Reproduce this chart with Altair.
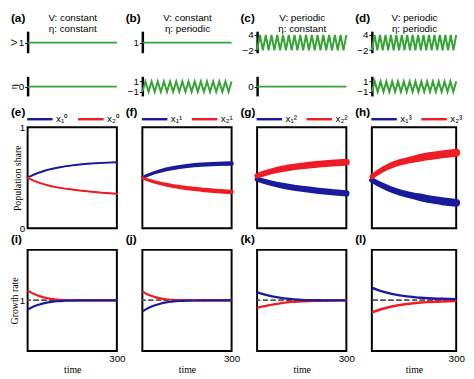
import altair as alt
import pandas as pd

# ---------------- data ----------------
T = [0, 20, 40, 60, 80, 100, 125, 150, 175, 200, 250, 300]

# top row: environmental signals V and eta
CONST_T = [0, 300]
V_CONST = [1, 1]
ETA_CONST = [0, 0]
V_ZIG_T = [0, 9.7, 19.4, 29.0, 38.7, 48.4, 58.1, 67.7, 77.4, 87.1, 96.8, 106.5,
           116.1, 125.8, 135.5, 145.2, 154.8, 164.5, 174.2, 183.9, 193.5, 203.2,
           212.9, 222.6, 232.3, 241.9, 251.6, 261.3, 271.0, 280.6, 290.3, 300]
V_ZIG = [-2, 4, -2, 4, -2, 4, -2, 4, -2, 4, -2, 4, -2, 4, -2, 4,
         -2, 4, -2, 4, -2, 4, -2, 4, -2, 4, -2, 4, -2, 4, -2, 4]
ETA_ZIG_T = [0, 10.3, 20.7, 31.0, 41.4, 51.7, 62.1, 72.4, 82.8, 93.1, 103.4, 113.8,
             124.1, 134.5, 144.8, 155.2, 165.5, 175.9, 186.2, 196.6, 206.9, 217.2,
             227.6, 237.9, 248.3, 258.6, 269.0, 279.3, 289.7, 300]
ETA_ZIG = [-1, 1, -1, 1, -1, 1, -1, 1, -1, 1, -1, 1, -1, 1, -1, 1,
           -1, 1, -1, 1, -1, 1, -1, 1, -1, 1, -1, 1, -1, 1]

# population shares (x1 blue, x2 red) and band thickness
E_X1 = [0.505, 0.530, 0.553, 0.572, 0.588, 0.600, 0.613, 0.623, 0.632, 0.639, 0.648, 0.654]
E_X2 = [0.500, 0.472, 0.450, 0.432, 0.417, 0.405, 0.393, 0.384, 0.374, 0.366, 0.353, 0.343]
E_W1 = [2, 2, 2, 2, 2, 2, 2, 2, 2, 2, 2, 2]
E_W2 = [2, 2, 2, 2, 2, 2, 2, 2, 2, 2, 2, 2]
F_X1 = [0.505, 0.528, 0.550, 0.568, 0.583, 0.595, 0.607, 0.617, 0.625, 0.631, 0.638, 0.642]
F_X2 = [0.500, 0.478, 0.460, 0.445, 0.432, 0.420, 0.408, 0.398, 0.390, 0.382, 0.370, 0.360]
F_W1 = [3.0, 3.2, 3.4, 3.6, 3.8, 4.0, 4.1, 4.2, 4.3, 4.4, 4.5, 4.5]
F_W2 = [3.0, 3.2, 3.4, 3.6, 3.8, 4.0, 4.1, 4.2, 4.3, 4.4, 4.5, 4.5]
G_X1 = [0.486, 0.468, 0.452, 0.438, 0.425, 0.414, 0.402, 0.392, 0.383, 0.374, 0.359, 0.346]
G_X2 = [0.520, 0.540, 0.558, 0.573, 0.586, 0.597, 0.608, 0.617, 0.626, 0.634, 0.645, 0.654]
G_W1 = [5.0, 5.2, 5.4, 5.6, 5.8, 6.0, 6.1, 6.2, 6.3, 6.4, 6.5, 6.5]
G_W2 = [5.5, 5.7, 5.9, 6.1, 6.3, 6.5, 6.6, 6.7, 6.8, 6.9, 7.0, 7.0]
H_X1 = [0.477, 0.447, 0.420, 0.395, 0.373, 0.355, 0.336, 0.320, 0.305, 0.290, 0.268, 0.252]
H_X2 = [0.510, 0.550, 0.585, 0.612, 0.635, 0.653, 0.670, 0.685, 0.700, 0.713, 0.732, 0.748]
H_W1 = [5.5, 5.7, 5.9, 6.1, 6.3, 6.5, 6.6, 6.7, 7.8, 7.9, 8.0, 8.0]
H_W2 = [5.0, 5.3, 5.6, 5.9, 6.2, 6.4, 6.6, 6.8, 7.8, 7.9, 8.0, 8.0]

# growth rates
I_X1 = [0.82, 0.88, 0.92, 0.95, 0.97, 0.985, 0.993, 0.997, 0.999, 1.0, 1.0, 1.0]
I_X2 = [1.20, 1.13, 1.085, 1.05, 1.03, 1.015, 1.007, 1.003, 1.001, 1.0, 1.0, 1.0]
J_X1 = [0.78, 0.85, 0.90, 0.935, 0.96, 0.975, 0.988, 0.995, 0.998, 1.0, 1.0, 1.0]
J_X2 = [1.18, 1.11, 1.07, 1.04, 1.022, 1.012, 1.005, 1.002, 1.001, 1.0, 1.0, 1.0]
K_X1 = [1.16, 1.125, 1.095, 1.07, 1.05, 1.035, 1.022, 1.012, 1.006, 1.003, 1.001, 1.0]
K_X2 = [0.85, 0.88, 0.905, 0.928, 0.945, 0.96, 0.972, 0.982, 0.988, 0.993, 0.998, 1.0]
L_X1 = [1.25, 1.21, 1.175, 1.145, 1.12, 1.10, 1.08, 1.065, 1.052, 1.043, 1.032, 1.025]
L_X2 = [0.76, 0.80, 0.835, 0.865, 0.89, 0.91, 0.93, 0.945, 0.958, 0.967, 0.98, 0.99]

PANEL_LABELS = ["(a)", "(b)", "(c)", "(d)", "(e)", "(f)", "(g)", "(h)",
                "(i)", "(j)", "(k)", "(l)"]
COL_TITLES = [["V: constant", "η: constant"], ["V: constant", "η: periodic"],
              ["V: periodic", "η: constant"], ["V: periodic", "η: periodic"]]
LEGEND_NAMES = [["x₁⁰", "x₂⁰"], ["x₁¹", "x₂¹"], ["x₁²", "x₂²"], ["x₁³", "x₂³"]]

# ---------------- styling ----------------
BLUE = "#1a1a9a"
RED = "#ee1c24"
GREEN = "#36a336"
SANS = "Liberation Sans"
SERIF = "Liberation Serif"
WIDTHS = [91, 91, 91, 86]
HSP = 26


def tscale():
    return alt.Scale(domain=[0, 300], nice=False, zero=False)


def label_title(text, offset):
    return alt.TitleParams(text, anchor="start", frame="group", dx=-17,
                           offset=offset, font=SANS, fontSize=12,
                           fontWeight="bold", color="black")


def top_panel(ts, vs, dom, ticks, width, height, ytitle, tfont, header=None,
              title=None):
    df = pd.DataFrame({"t": ts, "v": vs})
    ax = dict(values=ticks, format="d", domain=True, domainColor="black",
              domainWidth=2.5, ticks=True, tickColor="black", tickSize=3,
              tickWidth=1, labelFont=SANS, labelFontSize=10, labelPadding=1,
              labelColor="black", grid=False)
    if ytitle:
        ax.update(title=ytitle, titleFont=tfont, titleFontSize=10,
                  titleFontWeight="normal", titleX=-9, titleColor="black")
    else:
        ax.update(title=None)
    if header is not None:
        xax = alt.Axis(orient="top", title=header, labels=False, ticks=False,
                       domain=False, grid=False, titleFont=SANS,
                       titleFontSize=10, titleFontWeight="normal",
                       titleColor="black", titlePadding=-2, titleLineHeight=11)
    else:
        xax = None
    ch = alt.Chart(df).mark_line(color=GREEN, strokeWidth=2).encode(
        x=alt.X("t:Q", scale=tscale(), axis=xax),
        y=alt.Y("v:Q", scale=alt.Scale(domain=dom, nice=False, zero=False),
                axis=alt.Axis(**ax)),
    )
    props = dict(width=width, height=height,
                 view=alt.ViewBackground(stroke="transparent"))
    if title is not None:
        props["title"] = title
    return ch.properties(**props)


top_specs = [
    (CONST_T, V_CONST, [1], CONST_T, ETA_CONST, [0]),
    (CONST_T, V_CONST, [1], ETA_ZIG_T, ETA_ZIG, [1, -1]),
    (V_ZIG_T, V_ZIG, [4, -2], CONST_T, ETA_CONST, [0]),
    (V_ZIG_T, V_ZIG, [4, -2], ETA_ZIG_T, ETA_ZIG, [1, -1]),
]
v_panels, e_panels = [], []
for i, (vt, vv, vtk, et, ev, etk) in enumerate(top_specs):
    first = i == 0
    v_panels.append(top_panel(vt, vv, [-3, 5.5], vtk, WIDTHS[i], 22,
                              "V" if first else None, SANS,
                              header=COL_TITLES[i],
                              title=label_title(PANEL_LABELS[i], -13)))
    e_panels.append(top_panel(et, ev, [-1.8, 2], etk, WIDTHS[i], 20,
                              "η" if first else None, SERIF))

top_grid = alt.concat(*(v_panels + e_panels), columns=4, bounds="flush",
                      spacing={"row": 24, "column": HSP}).resolve_scale(
    x="independent", y="independent")

share_specs = [(E_X1, E_X2, E_W1, E_W2), (F_X1, F_X2, F_W1, F_W2),
               (G_X1, G_X2, G_W1, G_W2), (H_X1, H_X2, H_W1, H_W2)]
share_panels = []
for i, (x1, x2, w1, w2) in enumerate(share_specs):
    names = LEGEND_NAMES[i]
    df = pd.DataFrame({
        "t": T + T,
        "v": x1 + x2,
        "w": w1 + w2,
        "s": [names[0]] * len(T) + [names[1]] * len(T),
    })
    if i == 0:
        yax = alt.Axis(values=[0, 1], format="d", title="Population share",
                       titleFont=SERIF, titleFontSize=10,
                       titleFontWeight="normal", titleColor="black",
                       titleX=-5, labelFont=SANS, labelFontSize=10,
                       labelColor="black", domain=False, ticks=False,
                       labelPadding=3, grid=False)
    else:
        yax = None
    legend = alt.Legend(title=None, orient="none", legendX=-2, legendY=-23,
                        direction="horizontal", symbolType="stroke",
                        symbolSize=676, symbolStrokeWidth=2.5, labelFont=SANS,
                        labelFontSize=10, labelColor="black", labelOffset=2,
                        columnPadding=4, padding=0)
    cscale = alt.Scale(domain=names, range=[BLUE, RED])
    base = alt.Chart(df).encode(
        x=alt.X("t:Q", scale=tscale(), axis=None),
        y=alt.Y("v:Q", scale=alt.Scale(domain=[0, 1], nice=False),
                axis=yax),
    )
    leg_line = base.mark_line(strokeWidth=1).encode(
        color=alt.Color("s:N", scale=cscale, legend=legend))
    trail = base.mark_trail().encode(
        color=alt.Color("s:N", scale=cscale, legend=None),
        size=alt.Size("w:Q", scale=None, legend=None),
        detail="s:N",
    )
    p = alt.layer(leg_line, trail).properties(
        width=WIDTHS[i], height=103,
        title=label_title(PANEL_LABELS[4 + i], -14))
    share_panels.append(p)

growth_specs = [(I_X1, I_X2, 2.2), (J_X1, J_X2, 2.2), (K_X1, K_X2, 2.3),
                (L_X1, L_X2, 2.5)]
growth_panels = []
for i, (x1, x2, sw) in enumerate(growth_specs):
    df = pd.DataFrame({"t": T, "b": x1, "r": x2})
    if i == 0:
        yax = alt.Axis(values=[1], format="d", title="Growth rate",
                       titleFont=SERIF, titleFontSize=10,
                       titleFontWeight="normal", titleColor="black",
                       titleX=-8, labelFont=SANS, labelFontSize=10,
                       labelColor="black", domain=False, ticks=False,
                       labelPadding=3, grid=False)
    else:
        yax = None
    xax = alt.Axis(values=[300], format="d", title="time", titleFont=SERIF,
                   titleFontSize=10, titleFontWeight="normal",
                   titleColor="black", titlePadding=1, labelFont=SANS,
                   labelFontSize=10, labelColor="black", labelPadding=3,
                   domain=False, ticks=False, grid=False, labelFlush=False)
    xenc = alt.X("t:Q", scale=tscale(), axis=xax)
    yscale = alt.Scale(domain=[0, 2], nice=False)
    dash = alt.Chart(df).mark_rule(color="#555555", strokeDash=[5, 3],
                                   strokeWidth=1).encode(
        y=alt.Y("one:Q", scale=yscale, axis=yax)).transform_calculate(one="1")
    red = alt.Chart(df).mark_line(color=RED, strokeWidth=sw,
                                  interpolate="monotone").encode(
        x=xenc, y=alt.Y("r:Q", scale=yscale, axis=yax))
    blue = alt.Chart(df).mark_line(color=BLUE, strokeWidth=sw,
                                   interpolate="monotone").encode(
        x=xenc, y=alt.Y("b:Q", scale=yscale, axis=yax))
    p = alt.layer(dash, red, blue).properties(
        width=WIDTHS[i], height=103,
        title=label_title(PANEL_LABELS[8 + i], 4))
    growth_panels.append(p)

bottom_grid = alt.concat(*(share_panels + growth_panels), columns=4,
                         bounds="flush",
                         spacing={"row": 22, "column": HSP}).resolve_scale(
    x="independent", y="independent", color="independent").resolve_legend(
    color="independent")

chart = alt.vconcat(top_grid, bottom_grid, spacing=6, padding=0,
                    background="white").resolve_scale(
    x="independent", y="independent", color="independent").resolve_legend(
    color="independent").configure_view(stroke="black", strokeWidth=2)

chart.save("out.html", embed_options={"renderer": "svg", "actions": False})
